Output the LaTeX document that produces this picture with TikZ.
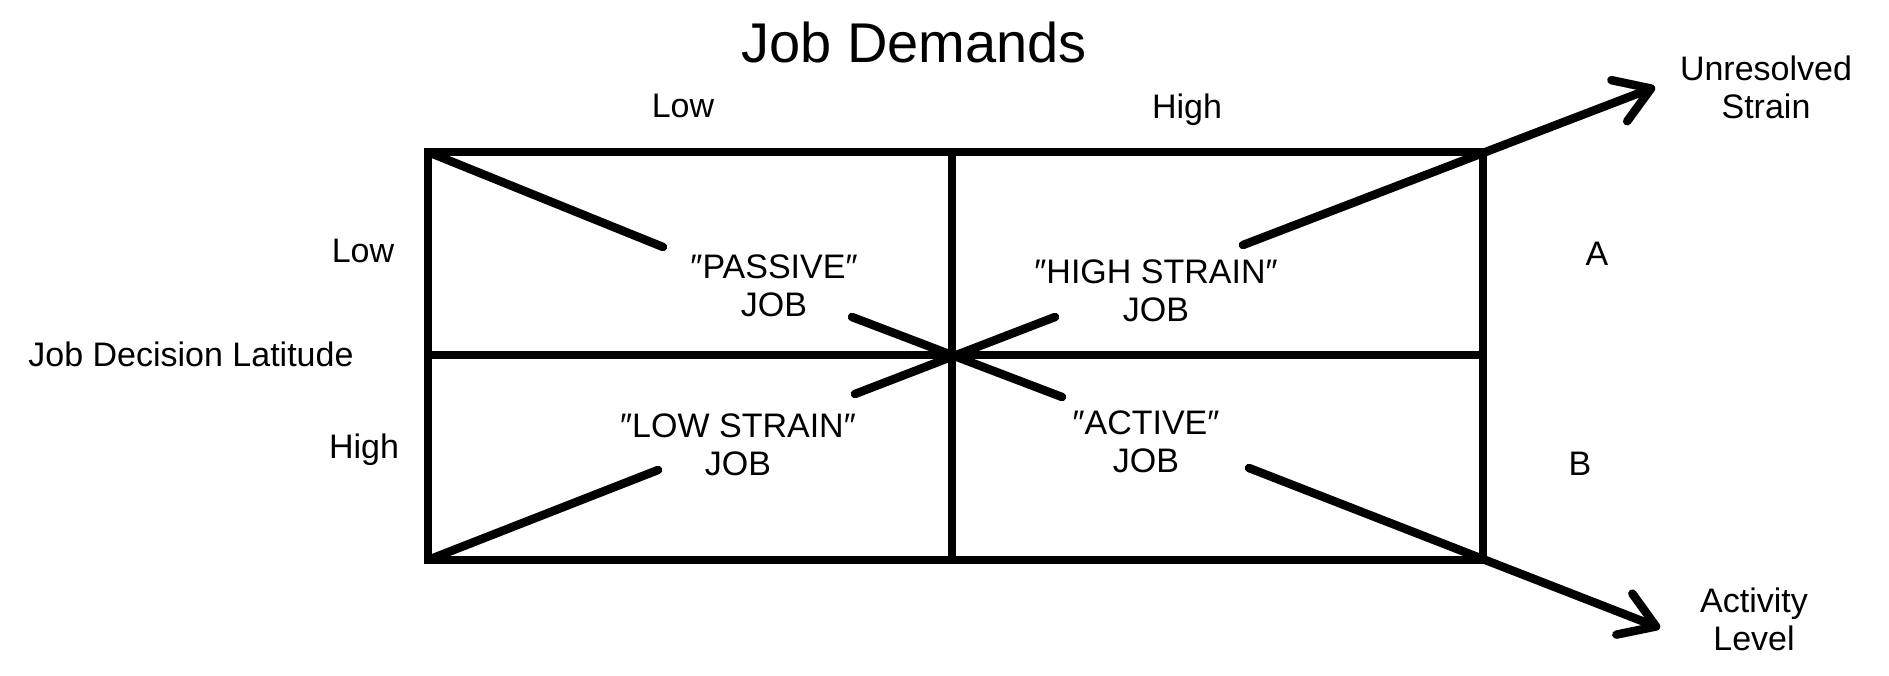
\documentclass[tikz,border=0pt]{standalone}
\usepackage{fontspec}
\setmainfont{Liberation Sans}
\usetikzlibrary{arrows.meta}
\begin{document}
\begin{tikzpicture}[x=1pt,y=-1pt,
  lbl/.style={inner sep=0pt, anchor=base, font=\fontsize{34}{38}\selectfont},
  cell/.style={lbl, align=center},
  frame/.style={line width=8pt, line join=miter},
  diag/.style={line width=8.5pt, line cap=round},
  arr/.style={diag, -{Straight Barb[length=34pt,width=44pt,line cap=round,line join=round]}},
]
\fill[white] (0,0) rectangle (1889,675);
\useasboundingbox (0,0) rectangle (1889,675);
% grid corners
\coordinate (tl) at (428,152);
\coordinate (tr) at (1483,152);
\coordinate (bl) at (428,560);
\coordinate (br) at (1483,560);
\coordinate (tm) at (952,152);
\coordinate (bm) at (952,560);
\coordinate (ml) at (428,355);
\coordinate (mr) at (1483,355);
% diagonal ends
\coordinate (p1) at (663,247);
\coordinate (p2s) at (852,317);
\coordinate (p2e) at (1062,397);
\coordinate (p3s) at (855,394);
\coordinate (p3e) at (1055,317);
\coordinate (p4) at (658,470);
\coordinate (u0) at (1243,245);
\coordinate (utip) at (1655,87);
\coordinate (a0) at (1249,468);
\coordinate (atip) at (1660,628);
% frame
\draw[frame] (tl) rectangle (br);
\draw[frame] (tm) -- (bm);
\draw[frame] (ml) -- (mr);
% diagonals
\draw[diag] (tl) -- (p1);
\draw[diag] (bl) -- (p4);
\draw[diag] (p2s) -- (p2e);
\draw[diag] (p3s) -- (p3e);
\draw[arr] (u0) -- (utip);
\draw[arr] (a0) -- (atip);
% texts
\node[inner sep=0pt, anchor=base, font=\fontsize{56}{60}\selectfont] (title) at (914,62) {Job Demands};
\node[lbl] (lowtop) at (683,117) {Low};
\node[lbl] (hightop) at (1187,118) {High};
\node[lbl] (lowleft) at (363,262) {Low};
\node[lbl] (highleft) at (364,458) {High};
\node[lbl] (jdl) at (191,366) {Job Decision Latitude};
\node[cell] (passive) at (774,316) {″PASSIVE″\\JOB};
\node[cell] (highstrain) at (1156,321) {″HIGH STRAIN″\\JOB};
\node[cell] (lowstrain) at (738,475) {″LOW STRAIN″\\JOB};
\node[cell] (active) at (1146,472) {″ACTIVE″\\JOB};
\node[lbl] (A) at (1597,265) {A};
\node[lbl] (B) at (1580,475) {B};
\node[cell] (unresolved) at (1766,118) {Unresolved\\Strain};
\node[cell] (activity) at (1754,650) {Activity\\Level};
\end{tikzpicture}
\end{document}
